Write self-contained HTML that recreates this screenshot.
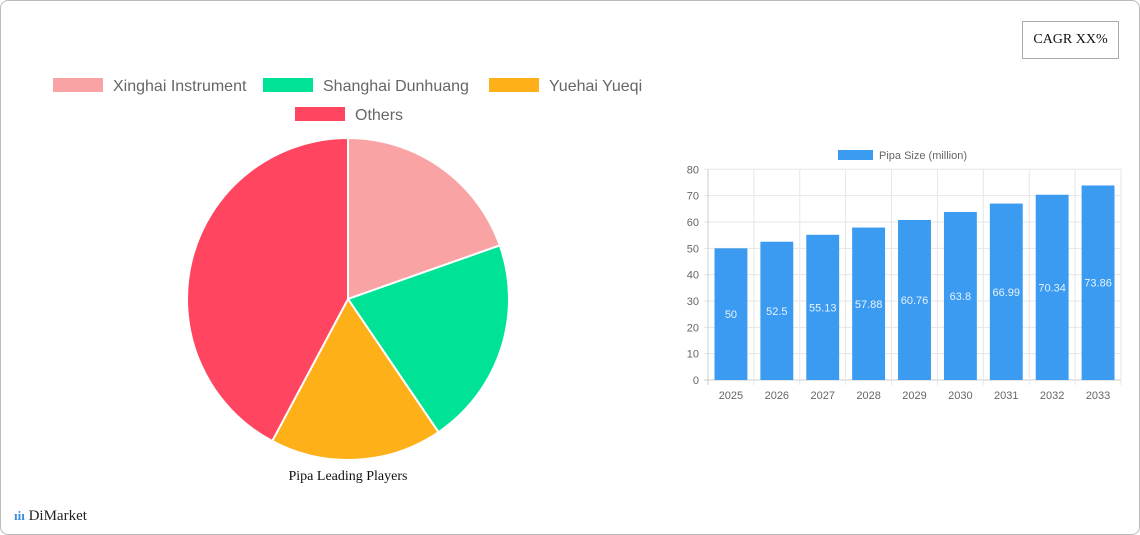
<!DOCTYPE html>
<html><head><meta charset="utf-8"><style>
body{margin:0;background:#fff;font-family:"Liberation Sans",sans-serif}
#card{position:absolute;left:0;top:0;width:1138px;height:533px;border:1px solid #bbb;border-radius:8px;background:#fff}
#cagr{position:absolute;left:1022px;top:21px;width:95px;height:36px;border:1px solid #aaa;font-family:"Liberation Serif",serif;font-size:14px;line-height:36px;text-align:center;color:#111}
#logo{position:absolute;left:14px;top:508px;font-family:"Liberation Serif",serif;font-size:15px;color:#222}
</style></head><body>
<div id="card"></div>
<div id="cagr">CAGR XX%</div>
<div id="logo"><span style="color:#3a8ee6;font-size:13px;font-weight:bold">ıiı</span> DiMarket</div>
<svg id="s" width="1140" height="535" style="position:absolute;left:0;top:0"></svg>
<script>
const pieLabels=["Xinghai Instrument","Shanghai Dunhuang","Yuehai Yueqi","Others"];
const pieValues=[19.6,20.9,17.3,42.2];
const pieColors=["#f9a3a4","#00e396","#feb019","#ff4560"];
const years=["2025","2026","2027","2028","2029","2030","2031","2032","2033"];
const sizes=[50,52.5,55.13,57.88,60.76,63.8,66.99,70.34,73.86];
const yTicks=[0,10,20,30,40,50,60,70,80];
const s=document.getElementById('s');const NS="http://www.w3.org/2000/svg";
function mk(t,a,txt){const e=document.createElementNS(NS,t);for(const k in a)e.setAttribute(k,a[k]);if(txt!==undefined)e.textContent=txt;s.appendChild(e);return e;}
const legPos=[[53,85],[263,85],[489,85],[295,114]];
pieLabels.forEach((l,i)=>{
 let r=mk('rect',{x:legPos[i][0],y:legPos[i][1]-7,width:50,height:14,fill:pieColors[i]});
 
 let t=mk('text',{x:legPos[i][0]+60,y:legPos[i][1]+6,'font-size':16,fill:'#666'},l);
 
});
const cx=348,cy=299,R=161;const tot=pieValues.reduce((a,b)=>a+b,0);let a0=-Math.PI/2;
pieValues.forEach((v,i)=>{const a1=a0+v/tot*2*Math.PI;
 const d=`M${cx},${cy}L${cx+R*Math.cos(a0)},${cy+R*Math.sin(a0)}A${R},${R} 0 ${a1-a0>Math.PI?1:0} 1 ${cx+R*Math.cos(a1)},${cy+R*Math.sin(a1)}Z`;
 let p=mk('path',{d:d,fill:pieColors[i],stroke:'#fff','stroke-width':2});
 a0=a1;});
let pt=mk('text',{x:348,y:480,'font-size':14,'text-anchor':'middle','font-family':'Liberation Serif',fill:'#111'},'Pipa Leading Players');

const L=708,Rt=1121,T=169.3,B=380;const ymax=80;
const y=v=>B-(B-T)*v/ymax;const cw=(Rt-L)/years.length;const x=i=>L+cw*i;
yTicks.forEach(t=>{mk('line',{x1:L-4,x2:Rt,y1:y(t),y2:y(t),stroke:t==0?'#ccc':'#e6e6e6'});
 let tl=mk('text',{x:L-9,y:y(t)+4,'font-size':11,'text-anchor':'end',fill:'#666'},t);
 });
for(let i=0;i<=years.length;i++)mk('line',{x1:x(i),x2:x(i),y1:T,y2:B+5,stroke:i==0?'#ccc':'#e6e6e6'});
years.forEach((yr,i)=>{
 let r=mk('rect',{x:x(i)+6.5,y:y(sizes[i]),width:cw-13,height:B-y(sizes[i]),fill:'#3a9bf0'});
 
 let v=mk('text',{x:x(i)+cw/2,y:(y(sizes[i])+B)/2+4,'font-size':11,'text-anchor':'middle',fill:'#e8f2ff'},sizes[i]);
 
 let xl=mk('text',{x:x(i)+cw/2,y:399,'font-size':11,'text-anchor':'middle',fill:'#666'},yr);
 });
let lr=mk('rect',{x:838,y:150,width:35,height:10,fill:'#3a9bf0'});

let lt=mk('text',{x:879,y:159,'font-size':11,fill:'#666'},'Pipa Size (million)');

</script></body></html>
